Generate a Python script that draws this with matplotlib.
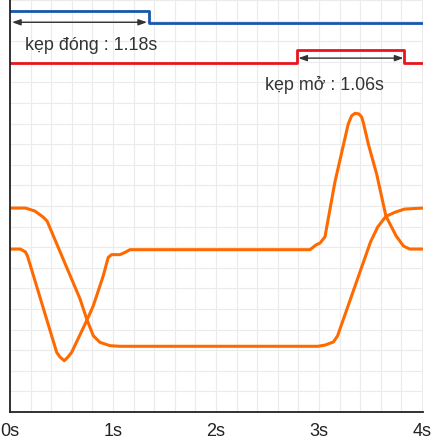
import matplotlib
matplotlib.use("Agg")
import matplotlib.pyplot as plt
from matplotlib.ticker import MultipleLocator

plt.rcParams['font.family'] = ['Liberation Sans', 'DejaVu Sans']

# ---- data ----
tick_labels = ["0s", "1s", "2s", "3s", "4s"]
tick_pos = [0, 1, 2, 3, 4]

blue_t = [0, 1.35, 4.01]
blue_v = [19.47, 18.9, 18.9]

red_t = [0, 2.79, 3.83, 4.01]
red_v = [16.93, 17.57, 16.93, 16.93]

a_t = [0, 0.15, 0.24, 0.32, 0.36, 0.68, 0.745, 0.809, 0.874, 0.971, 1.068,
       2.99, 3.06, 3.14, 3.18, 3.50, 3.57, 3.65, 3.74, 3.83, 4.01]
a_v = [9.9, 9.9, 9.76, 9.47, 9.27, 5.49, 4.51, 3.70, 3.38, 3.22, 3.19,
       3.19, 3.25, 3.4, 3.69, 8.25, 8.98, 9.5, 9.7, 9.85, 9.9]

b_t = [0, 0.1, 0.15, 0.17, 0.453, 0.485, 0.527, 0.563, 0.599, 0.748, 0.809,
       0.906, 0.954, 0.987, 1.068, 1.117, 1.165, 2.913, 2.971, 3.01, 3.058,
       3.155, 3.284, 3.317, 3.35, 3.388, 3.415, 3.43, 3.479, 3.56, 3.65,
       3.75, 3.82, 3.88, 4.01]
b_v = [7.91, 7.91, 7.77, 7.57, 2.90, 2.67, 2.49, 2.67, 2.90, 4.47, 5.16,
       6.62, 7.51, 7.64, 7.64, 7.75, 7.88, 7.88, 8.11, 8.2, 8.5,
       11.17, 13.98, 14.38, 14.5, 14.47, 14.31, 14.06, 13.01, 11.55, 9.51,
       8.54, 8.06, 7.91, 7.91]

close_label = "kẹp đóng : 1.18s"
close_span = (0.02, 1.33)
close_arrow_y = 18.92
open_label = "kẹp mở : 1.06s"
open_span = (2.80, 3.82)
open_arrow_y = 17.18

# ---- figure ----
fig = plt.figure(figsize=(4.33, 4.39), dpi=100)
ax = fig.add_axes([10/433, 26/439, 413/433, 413/439])

orange = "#ff6a00"
ax.plot(a_t, a_v, color=orange, lw=2.2, solid_joinstyle='round')
ax.plot(b_t, b_v, color=orange, lw=2.2, solid_joinstyle='round')
ax.plot(blue_t, blue_v, color="#1756b0", lw=2.0, drawstyle='steps-post')
ax.plot(red_t, red_v, color="#e8141e", lw=2.0, drawstyle='steps-post')

arrowprops = dict(arrowstyle='<|-|>,head_length=0.5,head_width=0.18', color='#333333', lw=1.0,
                  shrinkA=0, shrinkB=0)
ax.annotate("", xy=(close_span[0], close_arrow_y), xytext=(close_span[1], close_arrow_y),
            arrowprops=arrowprops)
ax.annotate("", xy=(open_span[0], open_arrow_y), xytext=(open_span[1], open_arrow_y),
            arrowprops=arrowprops)
ax.text(0.146, 17.62, close_label, fontsize=12.9, color='#333333', va='baseline', ha='left')
ax.text(2.476, 15.68, open_label, fontsize=12.9, color='#333333', va='baseline', ha='left')

ax.set_xlim(0, 4.01)
ax.set_ylim(0, 20.05)
ax.set_xticks(tick_pos)
ax.set_xticklabels(tick_labels, fontsize=13, color='#222222')
ax.xaxis.set_minor_locator(MultipleLocator(0.2))
ax.yaxis.set_major_locator(MultipleLocator(1))
ax.set_yticklabels([])
ax.tick_params(axis='both', which='both', length=0)
ax.tick_params(axis='x', pad=7)
ax.grid(True, which='both', color='#ebebeb', lw=0.8)
ax.set_axisbelow(True)
for s in ['top', 'right']:
    ax.spines[s].set_visible(False)
for s in ['left', 'bottom']:
    ax.spines[s].set_color('#222222')
    ax.spines[s].set_linewidth(1.3)

fig.savefig("out.png", dpi=100)
